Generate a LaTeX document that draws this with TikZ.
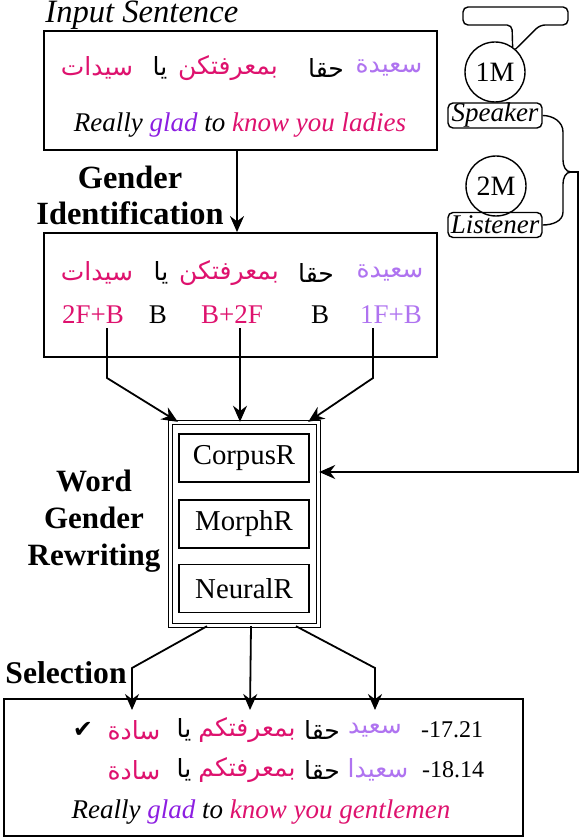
\documentclass[tikz,border=0pt]{standalone}
\usepackage{fontspec}
\setmainfont{Liberation Serif}
\newfontfamily\arabicfont[Script=Arabic]{DejaVu Sans}
\newfontfamily\symfont{DejaVu Sans}
\TeXXeTstate=1
\usetikzlibrary{arrows.meta,calc}
\definecolor{arpink}{RGB}{222,18,110}
\definecolor{arlav}{RGB}{175,115,240}
\definecolor{gladc}{RGB}{140,30,225}
\newcommand{\arw}[1]{{\arabicfont\beginR#1\endR}}

\begin{document}
\begin{tikzpicture}[x=0.5pt,y=-0.5pt,
    box/.style={draw, line width=0.9pt, inner sep=0pt},
    arr/.style={-{Stealth[length=8pt,width=7pt]}, line width=0.9pt},
    arword/.style={inner sep=0pt, font=\fontsize{12.5}{15}\selectfont},
    eng/.style={inner sep=0pt, anchor=base, font=\fontsize{13.5}{16}\selectfont\itshape},
    tag/.style={inner sep=0pt, font=\fontsize{13.5}{15}\selectfont},
    steplab/.style={inner sep=0pt, align=center, font=\fontsize{15.5}{18.5}\selectfont\bfseries},
    person/.style={circle, draw, line width=0.7pt, minimum size=30pt, inner sep=0pt, font=\fontsize{14}{16}\selectfont},
    role/.style={draw, rounded corners=2.5pt, line width=0.7pt, minimum width=47pt, minimum height=12.5pt, inner sep=0pt, font=\fontsize{13.5}{15}\selectfont\itshape}]
\useasboundingbox (0,0) rectangle (582,839);

\node[inner sep=0pt, anchor=base west, font=\fontsize{16.3}{19}\selectfont\itshape] (title) at (45,23) {Input Sentence};
\node[box, minimum width=196.5pt, minimum height=59.5pt] (inbox) at (240.5,90.5) {};
\node[arword, arlav] (i1) at (389,68) {\arw{سعيدة}};
\node[arword] (i2) at (326,68) {\arw{حقا}};
\node[arword, arpink] (i3) at (228,68) {\arw{بمعرفتكن}};
\node[arword] (i4) at (160,68) {\arw{يا}};
\node[arword, arpink] (i5) at (97,68) {\arw{سيدات}};
\node[eng] (ien) at (240,132) {Really \textcolor{gladc}{glad} to \textcolor{arpink}{know you ladies}};

\node[steplab, font=\fontsize{16.2}{18}\selectfont\bfseries] (gid) at (130,195) {Gender\\Identification};
\node[box, minimum width=196.5pt, minimum height=62pt] (gibox) at (240.5,295) {};
\node[arword, arlav] (g1) at (390,273) {\arw{سعيدة}};
\node[arword] (g2) at (316,273) {\arw{حقا}};
\node[arword, arpink] (g3) at (229,273) {\arw{بمعرفتكن}};
\node[arword] (g4) at (161,273) {\arw{يا}};
\node[arword, arpink] (g5) at (97,273) {\arw{سيدات}};
\node[tag, arpink] (t1) at (93,315) {2F+B};
\node[tag] (t2) at (158,315) {B};
\node[tag, arpink] (t3) at (232,315) {B+2F};
\node[tag] (t4) at (320,315) {B};
\node[tag, arlav] (t5) at (391,315) {1F+B};

\node[steplab] (wgr) at (94,521) {Word\\Gender\\Rewriting};
\node[box, double, double distance=1.2pt, line width=0.7pt, minimum width=74pt, minimum height=101.5pt] (rw) at (244.5,524) {};
\node[box, minimum width=65pt, minimum height=24pt, font=\fontsize{14.4}{16}\selectfont] (corpus) at (244,458) {CorpusR};
\node[box, minimum width=65pt, minimum height=24pt, font=\fontsize{14.4}{16}\selectfont] (morph) at (244,524) {MorphR};
\node[box, minimum width=65pt, minimum height=24pt, font=\fontsize{14.4}{16}\selectfont] (neural) at (244,588.5) {NeuralR};

\node[steplab, anchor=base, font=\fontsize{15.8}{18.5}\selectfont\bfseries] (sel) at (66,683) {Selection};
\node[box, minimum width=259.5pt, minimum height=68.5pt] (outbox) at (263.5,767.5) {};
\node[inner sep=0pt, font=\fontsize{12}{14}\symfont] (chk) at (83,730) {✔};
\node[arword, arpink] (o5) at (134,730) {\arw{سادة}};
\node[arword] (o4) at (184,730) {\arw{يا}};
\node[arword, arpink] (o3) at (247,730) {\arw{بمعرفتكم}};
\node[arword] (o2) at (322,730) {\arw{حقا}};
\node[arword, arlav] (o1) at (375,730) {\arw{سعيد}};
\node[tag, font=\fontsize{12}{14}\selectfont] (sc1) at (452,730) {-17.21};
\node[arword, arpink] (p5) at (134,770) {\arw{سادة}};
\node[arword] (p4) at (184,770) {\arw{يا}};
\node[arword, arpink] (p3) at (247,770) {\arw{بمعرفتكم}};
\node[arword] (p2) at (322,770) {\arw{حقا}};
\node[arword, arlav] (p1) at (378,770) {\arw{سعيدا}};
\node[tag, font=\fontsize{12}{14}\selectfont] (sc2) at (453,770) {-18.14};
\node[eng] (oen) at (261,818) {Really \textcolor{gladc}{glad} to \textcolor{arpink}{know you gentlemen}};

\node[person] (spkc) at (495,72) {1M};
\node[role] (spk) at (495,115.5) {Speaker};
\node[person] (lstc) at (496,186) {2M};
\node[role] (lst) at (495,225) {Listener};
\draw[line width=0.7pt, rounded corners=2.5pt] (spkc.55) -- (512,25) -- (463,25) -- (463,7) -- (568,7) -- (568,25) -- (540,25) -- (spkc.48);

\coordinate (tip) at (571,172);
\draw[line width=0.7pt] (spk.east) to[out=0,in=90] (563,132) -- (563,160) to[out=-90,in=180] (tip)
    to[out=180,in=90] (563,184) -- (563,212) to[out=-90,in=0] (lst.east);
\draw[arr] (tip) -- (578,172) |- ([yshift=26pt]rw.east);

\draw[arr] ([xshift=-1.75pt]inbox.south) -- ([xshift=-1.75pt]gibox.north);
\coordinate (s1) at (107,328);
\coordinate (s2) at (240,328);
\coordinate (s3) at (373,328);
\draw[arr] (s1) -- (107,378) -- ([xshift=4pt]rw.north west);
\draw[arr] (s2) -- (rw.north -| s2);
\draw[arr] (s3) -- (373,378) -- ([xshift=-5.5pt]rw.north east);

\draw[arr] ([xshift=-18.75pt]rw.south) -- (132,668) -- (132,710);
\draw[arr] ([xshift=3.25pt]rw.south) -- (250,710);
\draw[arr] ([xshift=25.75pt]rw.south) -- (375,668) -- (375,710);
\end{tikzpicture}
\end{document}
